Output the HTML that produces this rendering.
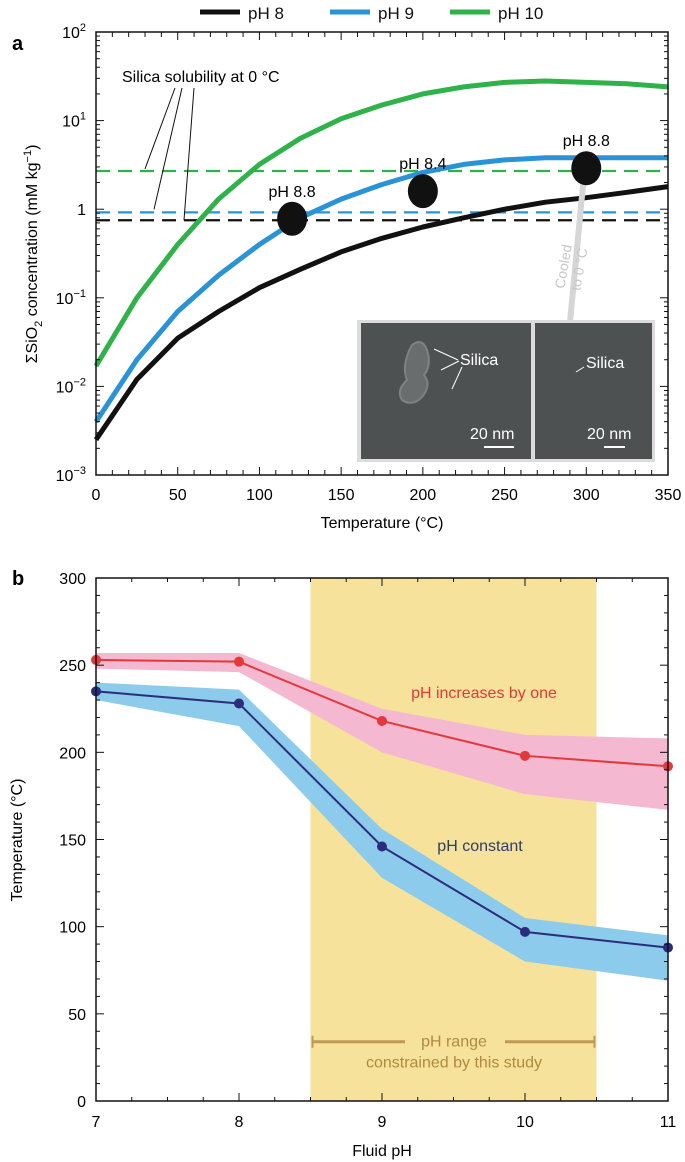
<!DOCTYPE html>
<html><head><meta charset="utf-8"><style>
body{margin:0;background:#fff;}
svg{display:block;font-family:"Liberation Sans",sans-serif;}
</style></head><body>
<svg id="chart" width="685" height="1162" viewBox="0 0 685 1162" xmlns="http://www.w3.org/2000/svg">
<g id="gA"></g>
<g id="gB"></g>
</svg>
<script>
// ---- Panel a data ----
const tempsA = [0,25,50,75,100,125,150,175,200,225,250,275,300,325,350];
const ph8 = [0.0025,0.012,0.035,0.07,0.13,0.21,0.33,0.47,0.63,0.8,1.0,1.2,1.35,1.55,1.8];
const ph9 = [0.004,0.02,0.07,0.18,0.4,0.8,1.3,1.9,2.6,3.2,3.6,3.8,3.8,3.8,3.8];
const ph10 = [0.017,0.1,0.4,1.3,3.2,6.3,10.5,15,20,24,27,28,27,26,24];
const solubility = [0.75,0.92,2.7];
const dotTemps = [120,200,300];
const dotConc = [0.78,1.6,2.9];
const dotLabels = ["pH 8.8","pH 8.4","pH 8.8"];
const xTicksA = [0,50,100,150,200,250,300,350];
const yExpA = [-3,-2,-1,0,1,2];
// ---- Panel b data ----
const phB = [7,8,9,10,11];
const redT = [253,252,218,198,192];
const redHi = [257,257,225,210,208];
const redLo = [248,246,200,176,167];
const blueT = [235,228,146,97,88];
const blueHi = [240,236,156,105,95];
const blueLo = [230,215,128,80,69];
const bandPH = [8.5,10.5];
const xTicksB = [7,8,9,10,11];
const yTicksB = [0,50,100,150,200,250,300];

const NS="http://www.w3.org/2000/svg";
function el(p,t,a){const e=document.createElementNS(NS,t);for(const k in a)e.setAttribute(k,a[k]);p.appendChild(e);return e;}
function txt(p,x,y,s,a){const e=el(p,'text',Object.assign({x:x,y:y},a||{}));e.textContent=s;return e;}

const A=document.getElementById('gA'), B=document.getElementById('gB');
const aL=96,aR=668,aT=32,aB=475;
const xa=v=>aL+(v/350)*(aR-aL);
const ya=v=>aB-(Math.log10(v)+3)/5*(aB-aT);

// legend
const leg=[["pH 8","#111"],["pH 9","#2a93d5"],["pH 10","#2fb24a"]];
const legX=[200,330,450];
leg.forEach((l,i)=>{
 const g=el(A,'g',{});
 
 
 el(g,'line',{x1:legX[i],y1:12,x2:legX[i]+40,y2:12,stroke:l[1],'stroke-width':5});
 txt(g,legX[i]+48,19,l[0],{'font-size':17,fill:'#111'});
});
const pl=txt(A,12,50,'a',{'font-size':20,'font-weight':'bold'});


// dashed solubility lines
const solCol=["#111","#2a93d5","#2fb24a"];
solubility.forEach((s,i)=>{
 const l=el(A,'line',{x1:aL,x2:aR,y1:ya(s),y2:ya(s),stroke:solCol[i],'stroke-width':2.2,'stroke-dasharray':'14,8'});
 
});
// annotation
const an=txt(A,122,82,'Silica solubility at 0 °C',{'font-size':16});

[[175,145,ya(2.7)-2],[182,154,ya(0.92)-3],[194,184,ya(0.75)]].forEach(p=>{
 el(A,'line',{x1:p[0],y1:88,x2:p[1],y2:p[2],stroke:'#111','stroke-width':1});
});

// curves
[[ph8,"#111","curve-ph8"],[ph9,"#2a93d5","curve-ph9"],[ph10,"#2fb24a","curve-ph10"]].forEach(c=>{
 const d=c[0].map((v,i)=>(i?'L':'M')+xa(tempsA[i]).toFixed(1)+','+ya(v).toFixed(1)).join(' ');
 const p=el(A,'path',{d:d,fill:'none',stroke:c[1],'stroke-width':5,'stroke-linejoin':'round'});
 
});

// cooling line + inset
el(A,'line',{x1:xa(300)-3,y1:ya(2.9)+14,x2:570,y2:322,stroke:'#d6d6d6','stroke-width':6});
const ct=el(A,'text',{transform:'translate(572,268) rotate(-80)','font-size':14,fill:'#c8c8c8','text-anchor':'middle'});

const t1=el(ct,'tspan',{x:0,dy:-4});t1.textContent='Cooled';
const t2=el(ct,'tspan',{x:0,dy:16});t2.textContent='to 0 °C';
const inset=el(A,'g',{});

el(inset,'rect',{x:357,y:320,width:298,height:142,fill:'#dcdcdc'});
el(inset,'rect',{x:361,y:323,width:170,height:136,fill:'#4e5152'});
el(inset,'rect',{x:535,y:323,width:117,height:136,fill:'#4e5152'});
el(inset,'path',{d:'M412,345 q10,-8 15,5 q5,15 -3,25 q8,10 -2,22 q-10,10 -20,3 q-6,-10 5,-20 q-6,-15 5,-35z',fill:'#6a6d6e',stroke:'#7e8182','stroke-width':2});
txt(inset,460,365,'Silica',{'font-size':16,fill:'#fff'});
el(inset,'line',{x1:434,y1:349,x2:458,y2:360,stroke:'#fff','stroke-width':1});
el(inset,'line',{x1:441,y1:370,x2:459,y2:361,stroke:'#fff','stroke-width':1});
el(inset,'line',{x1:452,y1:389,x2:462,y2:367,stroke:'#fff','stroke-width':1});
txt(inset,586,368,'Silica',{'font-size':16,fill:'#fff'});
el(inset,'line',{x1:576,y1:372,x2:584,y2:367,stroke:'#fff','stroke-width':1});
txt(inset,470,439,'20 nm',{'font-size':16,fill:'#fff'});
el(inset,'line',{x1:484,y1:447,x2:514,y2:447,stroke:'#fff','stroke-width':2});
txt(inset,587,439,'20 nm',{'font-size':16,fill:'#fff'});
el(inset,'line',{x1:604,y1:447,x2:625,y2:447,stroke:'#fff','stroke-width':2});

// dots
dotTemps.forEach((t,i)=>{
 const e=el(A,'ellipse',{cx:xa(t),cy:ya(dotConc[i]),rx:15,ry:17,fill:'#111'});
 
 const l=txt(A,xa(t),ya(dotConc[i])-22,dotLabels[i],{'font-size':16,'text-anchor':'middle'});
 
});

// axes a
el(A,'rect',{x:aL,y:aT,width:aR-aL,height:aB-aT,fill:'none',stroke:'#111','stroke-width':1.5});
for(let v=0;v<=350;v+=10){const big=v%50==0,L=big?8:5,x=xa(v);
 el(A,'line',{x1:x,x2:x,y1:aB,y2:aB-L,stroke:'#111'});el(A,'line',{x1:x,x2:x,y1:aT,y2:aT+L,stroke:'#111'});}
xTicksA.forEach(v=>{const t=txt(A,xa(v),500,String(v),{'font-size':16,'text-anchor':'middle'});
 });
yExpA.forEach(e=>{
 const y=ya(Math.pow(10,e));
 el(A,'line',{x1:aL,x2:aL+8,y1:y,y2:y,stroke:'#111'});el(A,'line',{x1:aR,x2:aR-8,y1:y,y2:y,stroke:'#111'});
 if(e<2)for(let m=2;m<10;m++){const ym=ya(m*Math.pow(10,e));
  el(A,'line',{x1:aL,x2:aL+4,y1:ym,y2:ym,stroke:'#111'});el(A,'line',{x1:aR,x2:aR-4,y1:ym,y2:ym,stroke:'#111'});}
 const t=txt(A,86,y+6,'',{'font-size':16,'text-anchor':'end'});
 
 if(e===0){t.textContent='1';}else{
  const b=el(t,'tspan',{});b.textContent='10';
  const s=el(t,'tspan',{dy:-7,'font-size':11});s.textContent=String(e).replace('-','−');}
});
const xt=txt(A,382,528,'Temperature (°C)',{'font-size':16,'text-anchor':'middle'});

const yt=el(A,'text',{transform:'translate(37,254) rotate(-90)','font-size':16,'text-anchor':'middle'});

[['ΣSiO',0],['2',5,11],[' concentration (mM kg',-5],['−1',-6,11],[')',6]].forEach(p=>{
 const s=el(yt,'tspan',{dy:p[1]});if(p[2])s.setAttribute('font-size',p[2]);s.textContent=p[0];});

// ---- Panel b ----
const bL=96,bR=668,bT=578,bB=1101;
const xb=v=>bL+(v-7)/4*(bR-bL);
const yb=v=>bB-v/300*(bB-bT);
const pb=txt(B,12,585,'b',{'font-size':20,'font-weight':'bold'});

const band=el(B,'rect',{x:xb(bandPH[0]),y:bT,width:xb(bandPH[1])-xb(bandPH[0]),height:bB-bT,fill:'#f7e29b'});

function area(hi,lo,col,name){
 let d=hi.map((v,i)=>(i?'L':'M')+xb(phB[i])+','+yb(v)).join(' ');
 for(let i=lo.length-1;i>=0;i--)d+=' L'+xb(phB[i])+','+yb(lo[i]);
 const p=el(B,'path',{d:d+'Z',fill:col});}
area(redHi,redLo,'#f4b8d0','red-uncertainty-band');
area(blueHi,blueLo,'#8ccbeb','blue-uncertainty-band');
function series(vals,col,name){
 const d=vals.map((v,i)=>(i?'L':'M')+xb(phB[i])+','+yb(v)).join(' ');
 const p=el(B,'path',{d:d,fill:'none',stroke:col,'stroke-width':2});
 
 vals.forEach((v,i)=>{const c=el(B,'circle',{cx:xb(phB[i]),cy:yb(v),r:5,fill:col});
  });}
series(redT,'#e2393a','ph-increases');
series(blueT,'#2b2d7c','ph-constant');
const l1=txt(B,484,698,'pH increases by one',{'font-size':16,fill:'#e2393a','text-anchor':'middle'});

const l2=txt(B,480,851,'pH constant',{'font-size':16,fill:'#2b3d6c','text-anchor':'middle'});

const rg=el(B,'g',{});
const ry=yb(34);
el(rg,'line',{x1:xb(bandPH[0])+2,x2:xb(bandPH[1])-2,y1:ry,y2:ry,stroke:'#c09a55','stroke-width':3});
el(rg,'line',{x1:xb(bandPH[0])+2,x2:xb(bandPH[0])+2,y1:ry-6,y2:ry+6,stroke:'#c09a55','stroke-width':2});
el(rg,'line',{x1:xb(bandPH[1])-2,x2:xb(bandPH[1])-2,y1:ry-6,y2:ry+6,stroke:'#c09a55','stroke-width':2});
el(rg,'rect',{x:405,y:ry-10,width:100,height:20,fill:'#f7e29b'});
txt(rg,454,ry+5,'pH range',{'font-size':16,fill:'#b08a3e','text-anchor':'middle'});
txt(rg,454,ry+26,'constrained by this study',{'font-size':16,fill:'#b08a3e','text-anchor':'middle'});
el(B,'rect',{x:bL,y:bT,width:bR-bL,height:bB-bT,fill:'none',stroke:'#111','stroke-width':1.5});
for(let v=0;v<=300;v+=10){const big=v%50==0,L=big?8:4,y=yb(v);
 el(B,'line',{x1:bL,x2:bL+L,y1:y,y2:y,stroke:'#111'});el(B,'line',{x1:bR,x2:bR-L,y1:y,y2:y,stroke:'#111'});}
for(let v=7;v<=11.001;v+=0.25){const big=Math.abs(v-Math.round(v))<0.01,L=big?8:4,x=xb(v);
 el(B,'line',{x1:x,x2:x,y1:bB,y2:bB-L,stroke:'#111'});el(B,'line',{x1:x,x2:x,y1:bT,y2:bT+L,stroke:'#111'});}
yTicksB.forEach(v=>{const t=txt(B,86,yb(v)+6,String(v),{'font-size':16,'text-anchor':'end'});
 });
xTicksB.forEach(v=>{const t=txt(B,xb(v),1127,String(v),{'font-size':16,'text-anchor':'middle'});
 });
const xtb=txt(B,382,1156,'Fluid pH',{'font-size':16,'text-anchor':'middle'});

const ytb=txt(B,0,0,'Temperature (°C)',{'font-size':16,'text-anchor':'middle',transform:'translate(22,840) rotate(-90)'});

</script>
</body></html>
